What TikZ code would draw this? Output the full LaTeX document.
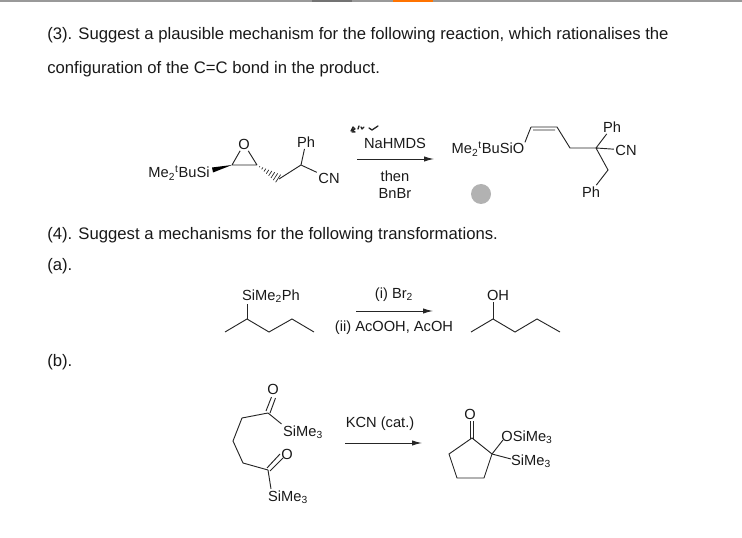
\documentclass[tikz,border=0pt]{standalone}
\usepackage{fontspec}
\setmainfont{Liberation Sans}
\usetikzlibrary{calc,arrows.meta}
\newcommand{\sub}[1]{\textsubscript{#1}}
\newcommand{\sil}{Me\sub{2}\textsuperscript{t}BuSi}
\tikzset{
  x=0.75pt,y=-0.75pt,
  heading/.style={anchor=west,inner sep=0pt,font=\fontsize{12.52}{14}\selectfont,text=black!90},
  chem/.style={inner sep=1pt,font=\fontsize{11}{12}\selectfont,text=black!90},
  cond/.style={inner sep=0pt,yshift=-0.75pt,font=\fontsize{11}{12}\selectfont,text=black!90},
  bond/.style={line width=0.7pt,black!85},
  rxn/.style={line width=0.7pt,black!85,-{Latex[length=7.5pt,width=4pt]}}
}
\begin{document}
\begin{tikzpicture}
\useasboundingbox (0,0) rectangle (742,538);
% page edge
\draw[line width=0.9pt,black!40] (0,1) -- (742,1);
\fill[black!55] (312,0) rectangle (352,2);
\fill[orange!90!red] (393,0) rectangle (433,2);
% headings
\node[heading] (h3a) at (47,35) {(3). Suggest a plausible mechanism for the following reaction, which rationalises the};
\node[heading] (h3b) at (47,69) {configuration of the C=C bond in the product.};
\node[heading] (h4) at (47,235) {(4). Suggest a mechanisms for the following transformations.};
\node[heading] (ha) at (47,266) {(a).};
\node[heading] (hb) at (47,362) {(b).};

% --- reaction 3, substrate
\node[chem] (si1) at (179,173) {\sil};
\node[chem] (o1) at (244,144) {O};
\node[chem] (ph1) at (306,142) {Ph};
\node[chem] (cn1) at (329,178) {CN};
\coordinate (e1) at (232,165);
\coordinate (e2) at (257,165);
\coordinate (c1) at (279,179);
\coordinate (c2) at (301,165);
\draw[bond] (e1) -- (e2) (e1) -- (o1) (e2) -- (o1);
\fill[black] (e1) -- (212,167.5) -- (213,172.5) -- cycle;
\foreach \f in {.12,.24,.36,.48,.6,.72,.84,.96}
  \draw[line width=0.5pt,black!85] ($(e2)!\f!(c1)+(\f*2.6,-\f*4)$) -- ($(e2)!\f!(c1)+(-\f*2.6,\f*4)$);
\draw[bond] (c1) -- (c2) (c2) -- (ph1) (c2) -- (cn1);

% conditions
\coordinate (a1s) at (357,159);
\coordinate (a1e) at (434,159);
\draw[rxn] (a1s) -- (a1e);
\node[cond] (t1) at (395,142) {NaHMDS};
\node[cond] (t2) at (395,175) {then};
\node[cond] (t3) at (395,192) {BnBr};
% handwriting
\draw[line width=1pt,black!85,line cap=round,line join=round]
  (351,131) -- (353,127) -- (355,129) -- (352,130) -- (355,132) -- (352,132)
  (358,129) -- (359,126) (361,127) -- (362,129) -- (364,127)
  (369,128) -- (372,130) -- (378,126);

% --- reaction 3, product
\node[chem] (si2) at (488,149) {\sil O};
\coordinate (v1) at (531,127);
\coordinate (v2) at (557,127);
\coordinate (c3) at (570,148);
\coordinate (c4) at (596,148);
\coordinate (c5) at (608,170);
\coordinate (v1i) at (533,130);
\coordinate (v2i) at (555,130);
\node[chem] (ph2) at (612,127) {Ph};
\node[chem] (cn2) at (626,150) {CN};
\node[chem] (ph3) at (591,192) {Ph};
\draw[bond] (si2.north east) ++(-1,2) -- (v1);
\draw[bond] (v1) -- (v2) -- (c3) -- (c4) (v1i) -- (v2i);
\draw[bond] (c4) -- (ph2) (c4) -- (cn2) (c4) -- (c5) -- (ph3);
\fill[black!30] (481,194) circle (10);

% --- reaction 4a
\node[chem] (si3) at (271,296) {SiMe\sub{2}Ph};
\coordinate (d1) at (225,332);
\coordinate (d2) at (247,319);
\coordinate (d3) at (269,332);
\coordinate (d4) at (292,319);
\coordinate (d5) at (314,332);
\draw[bond] (d1) -- (d2) -- (d3) -- (d4) -- (d5);
\draw[bond] (d2) -- (d2 |- si3.south);
\coordinate (a2s) at (356,311);
\coordinate (a2e) at (433,311);
\draw[rxn] (a2s) -- (a2e);
\node[cond] (t4) at (394,294) {(i) Br\sub{2}};
\node[cond] (t5) at (394,327) {(ii) AcOOH, AcOH};
\node[chem] (oh) at (498,295) {OH};
\coordinate (f1) at (471,332);
\coordinate (f2) at (493,319);
\coordinate (f3) at (515,332);
\coordinate (f4) at (537,319);
\coordinate (f5) at (560,332);
\draw[bond] (f1) -- (f2) -- (f3) -- (f4) -- (f5);
\draw[bond] (f2) -- (f2 |- oh.south);

% --- reaction 4b, substrate
\node[chem] (o2) at (273,389) {O};
\node[chem] (o3) at (287,454) {O};
\node[chem] (si4) at (303,432) {SiMe\sub{3}};
\node[chem] (si5) at (288,497) {SiMe\sub{3}};
\coordinate (g1) at (268,413);
\coordinate (g2) at (242,418);
\coordinate (g3) at (233,441);
\coordinate (g4) at (243,463);
\coordinate (g5) at (268,470);
\coordinate (g1a) at (271.5,397);
\coordinate (g1b) at (266,411);
\coordinate (g1c) at (275.5,398);
\coordinate (g1d) at (270,413);
\coordinate (g5a) at (267,468);
\coordinate (g5b) at (280,454);
\coordinate (g5c) at (270,471);
\coordinate (g5d) at (283,458);
\draw[bond] (g1) -- (g2) -- (g3) -- (g4) -- (g5);
\draw[bond] (g1a) -- (g1b) (g1c) -- (g1d);
\draw[bond] (g5a) -- (g5b) (g5c) -- (g5d);
\draw[bond] (g1) -- (si4.north west);
\draw[bond] (g5) -- (si5.north -| 271,0);
\coordinate (a3s) at (345,443);
\coordinate (a3e) at (422,443);
\draw[rxn] (a3s) -- (a3e);
\node[cond] (t6) at (380,423) {KCN (cat.)};

% --- reaction 4b, product
\node[chem] (o4) at (470,414) {O};
\node[chem] (os) at (527,437) {OSiMe\sub{3}};
\node[chem] (si6) at (531,461) {SiMe\sub{3}};
\coordinate (r1) at (472,438);
\coordinate (r2) at (492,454);
\coordinate (r3) at (484,478);
\coordinate (r4) at (457,478);
\coordinate (r5) at (449,454);
\coordinate (r1a) at (470.3,421);
\coordinate (r1b) at (470.3,439);
\coordinate (r1c) at (473.7,421);
\coordinate (r1d) at (473.7,439);
\draw[bond] (r1) -- (r2) -- (r3) -- (r4) -- (r5) -- cycle;
\draw[bond] (r1a) -- (r1b) (r1c) -- (r1d);
\draw[bond] (r2) -- (503,440);
\draw[bond] (r2) -- (511,459);
\end{tikzpicture}
\end{document}
